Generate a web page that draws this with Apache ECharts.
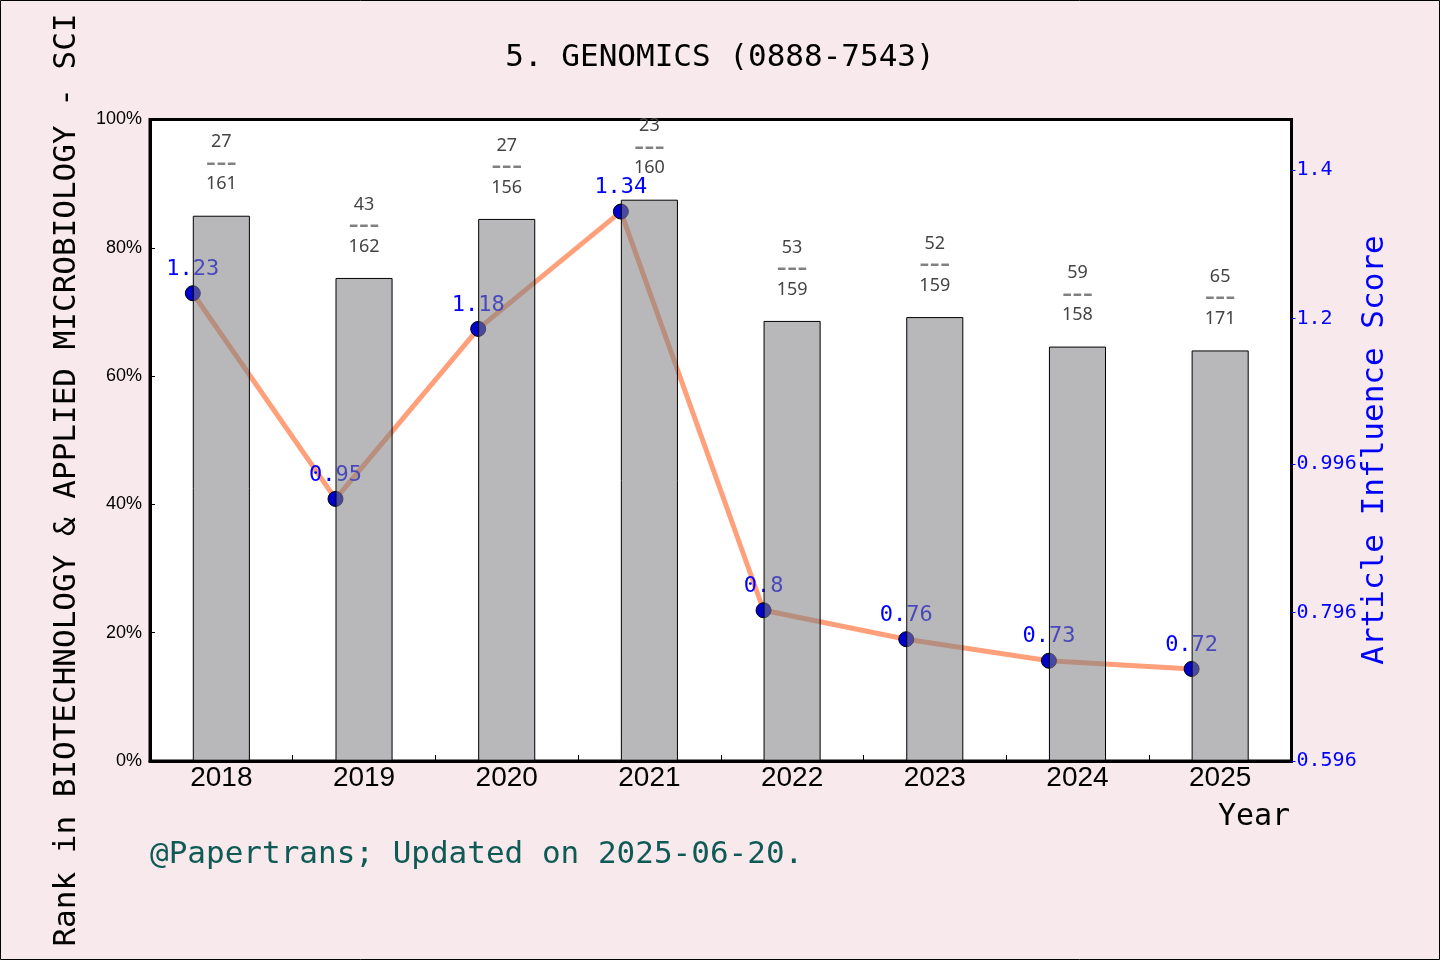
<!DOCTYPE html>
<html>
<head>
<meta charset="utf-8">
<script src="https://cdn.jsdelivr.net/npm/echarts@6/dist/echarts.min.js"></script>
<style>
  html, body { margin: 0; padding: 0; background: #f7e9ec; }
  #chart { width: 1440px; height: 960px; }
</style>
</head>
<body>
<div id="chart"></div>
<script>
// ---- data ----
const years = ['2018', '2019', '2020', '2021', '2022', '2023', '2024', '2025'];
const rankPercent = [85.0, 75.3, 84.5, 87.5, 68.6, 69.2, 64.6, 64.0];
const ranks = [27, 43, 27, 23, 53, 52, 59, 65];
const totals = [161, 162, 156, 160, 159, 159, 158, 171];
const aisValues = [1.226, 0.949, 1.178, 1.336, 0.799, 0.760, 0.731, 0.720];
const rightTickValues = [0.596, 0.796, 0.996, 1.192, 1.392];
const rightTickLabels = ['0.596', '0.796', '0.996', '1.2', '1.4'];
const titleText = '5. GENOMICS (0888-7543)';
const leftName = 'Rank in BIOTECHNOLOGY & APPLIED MICROBIOLOGY - SCI';
const rightName = 'Article Influence Score';
const footerText = '@Papertrans; Updated on 2025-06-20.';

const MONO = '"DejaVu Sans Mono", "Liberation Mono", monospace';
const SANS = '"Liberation Sans", Arial, sans-serif';

const G = { left: 150, right: 148.5, top: 119.5, bottom: 199 };
const catW = (1440 - G.left - G.right) / years.length;
const shift = catW * 0.2; // line points sit at the bar's left edge

const chart = echarts.init(document.getElementById('chart'));

const barLabels = ranks.map((r, i) => `{n|${r}}\n{d|---}\n{n|${totals[i]}}`);

chart.setOption({
  backgroundColor: '#f7e9ec',
  animation: false,
  title: {
    text: titleText,
    left: 'center',
    top: 37,
    textStyle: { fontFamily: MONO, fontSize: 31, fontWeight: 'normal', color: '#000' }
  },
  grid: [
    { left: G.left, right: G.right, top: G.top, bottom: G.bottom, show: true,
      backgroundColor: '#ffffff', borderColor: '#000', borderWidth: 3 },
    { left: G.left - shift, right: G.right + shift, top: G.top, bottom: G.bottom, show: false }
  ],
  xAxis: [
    {
      type: 'category', gridIndex: 0, data: years,
      axisLine: { show: true, lineStyle: { color: '#000', width: 3 } },
      axisTick: { show: true, inside: true, length: 6, lineStyle: { color: '#000', width: 1 } },
      axisLabel: { fontFamily: SANS, fontSize: 28, color: '#000', margin: 3 }
    },
    { type: 'category', gridIndex: 1, data: years, show: false }
  ],
  yAxis: [
    {
      type: 'value', gridIndex: 0, position: 'left', min: 0, max: 100, interval: 20,
      axisLine: { show: true, lineStyle: { color: '#000', width: 3 } },
      axisTick: { show: true, inside: true, length: 5, lineStyle: { color: '#000', width: 1 } },
      axisLabel: { formatter: '{value}%', fontFamily: SANS, fontSize: 18, color: '#000', margin: 8 },
      splitLine: { show: false }
    },
    {
      type: 'value', gridIndex: 0, position: 'right', min: 0.596, max: 1.46,
      axisLine: { show: true, lineStyle: { color: '#000', width: 3 } },
      axisTick: { show: true, inside: false, length: 4, customValues: rightTickValues,
        lineStyle: { color: '#0000ff', width: 1 } },
      axisLabel: {
        customValues: rightTickValues,
        formatter: v => {
          const i = rightTickValues.findIndex(t => Math.abs(t - v) < 1e-6);
          return i >= 0 ? rightTickLabels[i] : '';
        },
        fontFamily: MONO, fontSize: 20, color: '#0000ff', margin: 5
      },
      splitLine: { show: false }
    },
    { type: 'value', gridIndex: 1, min: 0.596, max: 1.46, show: false }
  ],
  series: [
    {
      type: 'line', xAxisIndex: 1, yAxisIndex: 2, z: 2,
      data: aisValues,
      lineStyle: { color: '#ffa07a', width: 5 },
      itemStyle: { color: '#0000cd', borderColor: '#000', borderWidth: 1 },
      symbol: 'circle', symbolSize: 15,
      label: {
        show: true, position: 'top', distance: 5,
        formatter: p => String(parseFloat(p.value.toFixed(2))),
        fontFamily: MONO, fontSize: 22, color: '#0000ff'
      }
    },
    {
      type: 'bar', xAxisIndex: 0, yAxisIndex: 0, z: 3,
      data: rankPercent, barWidth: '40%',
      itemStyle: { color: 'rgba(128,129,132,0.56)', borderColor: '#000', borderWidth: 1 },
      label: {
        show: true, position: 'top', distance: 21,
        formatter: p => barLabels[p.dataIndex],
        rich: {
          n: { fontFamily: '"Noto Sans", sans-serif', fontSize: 18, color: '#444', lineHeight: 21 },
          d: { fontFamily: SANS, fontSize: 31, color: '#808080', lineHeight: 21 }
        }
      }
    }
  ],
  graphic: [
    { type: 'rect', shape: { x: 0.5, y: 0.5, width: 1439, height: 959 },
      style: { fill: 'none', stroke: '#000', lineWidth: 1 }, silent: true, z: 100 },
    { type: 'text', x: 67, y: 480, rotation: Math.PI / 2,
      style: { text: leftName, fontFamily: MONO, fontSize: 31, fill: '#000',
        align: 'center', verticalAlign: 'middle' } },
    { type: 'text', x: 1375, y: 450, rotation: Math.PI / 2,
      style: { text: rightName, fontFamily: MONO, fontSize: 31, fill: '#0000ff',
        align: 'center', verticalAlign: 'middle' } },
    { type: 'text', x: 1254, y: 817,
      style: { text: 'Year', fontFamily: MONO, fontSize: 30, fill: '#000',
        align: 'center', verticalAlign: 'middle' } },
    { type: 'text', x: 150, y: 855,
      style: { text: footerText, fontFamily: MONO, fontSize: 31, fill: '#0f5a55',
        align: 'left', verticalAlign: 'middle' } }
  ]
});
</script>
</body>
</html>
